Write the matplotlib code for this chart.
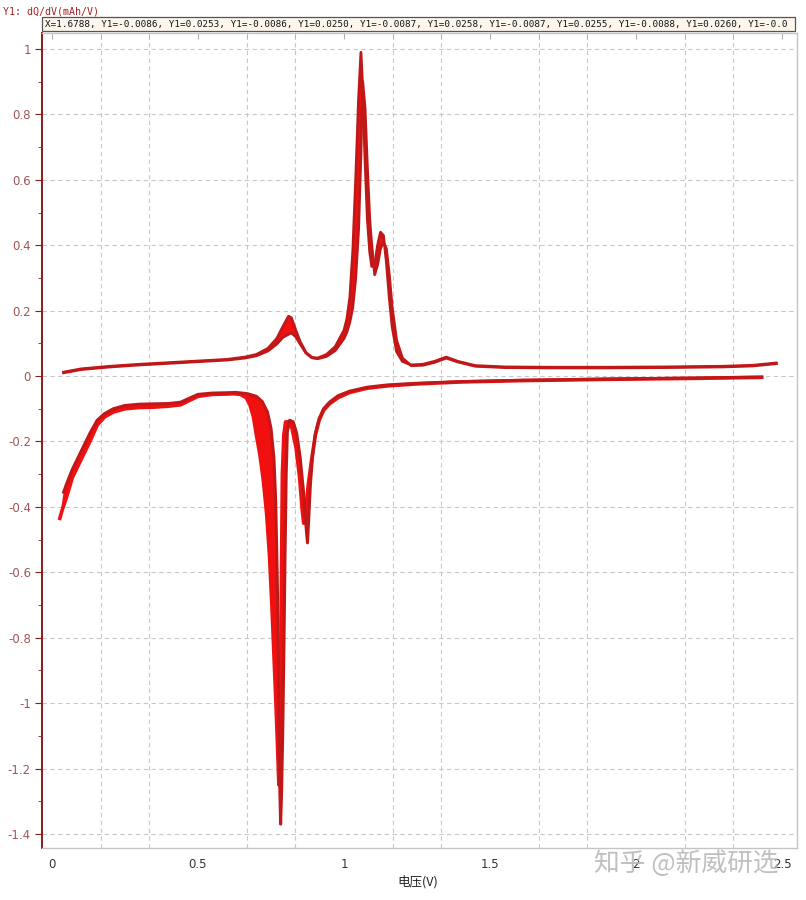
import matplotlib
matplotlib.use('Agg')
import matplotlib.pyplot as plt
from matplotlib.patches import Rectangle
from matplotlib.ticker import MultipleLocator, FixedLocator
import numpy as np

plt.rcParams['axes.unicode_minus'] = False

# charge branch (dQ/dV > 0), highest and lowest cycle
charge_v = [0.04, 0.10, 0.20, 0.30, 0.40, 0.50, 0.60, 0.66, 0.70, 0.74, 0.77, 0.79,
            0.81, 0.82, 0.835, 0.85, 0.87, 0.89, 0.91, 0.94, 0.97, 1.00, 1.01, 1.02,
            1.03, 1.04, 1.05, 1.058, 1.064, 1.072, 1.08, 1.088, 1.095, 1.105, 1.115,
            1.125, 1.135, 1.145, 1.155, 1.165, 1.18, 1.20, 1.23, 1.27, 1.31, 1.35,
            1.39, 1.45, 1.55, 1.7, 1.9, 2.1, 2.3, 2.4, 2.48]
charge_q_high = [0.012, 0.022, 0.030, 0.036, 0.041, 0.046, 0.051, 0.058, 0.066, 0.085,
                 0.115, 0.150, 0.183, 0.178, 0.140, 0.105, 0.072, 0.057, 0.055, 0.066,
                 0.090, 0.140, 0.175, 0.240, 0.380, 0.600, 0.850, 0.990, 0.880, 0.660,
                 0.480, 0.380, 0.335, 0.340, 0.400, 0.440, 0.430, 0.350, 0.240, 0.150,
                 0.075, 0.045, 0.034, 0.036, 0.045, 0.058, 0.045, 0.032, 0.028, 0.027,
                 0.027, 0.028, 0.030, 0.033, 0.040]
charge_q_low = [0.010, 0.020, 0.028, 0.034, 0.039, 0.044, 0.049, 0.055, 0.062, 0.077,
                0.098, 0.118, 0.128, 0.132, 0.120, 0.098, 0.070, 0.056, 0.053, 0.060,
                0.078, 0.115, 0.135, 0.165, 0.210, 0.300, 0.450, 0.680, 0.900, 0.820,
                0.640, 0.480, 0.400, 0.310, 0.340, 0.390, 0.410, 0.390, 0.310, 0.210,
                0.110, 0.055, 0.032, 0.033, 0.042, 0.055, 0.043, 0.030, 0.026, 0.025,
                0.025, 0.026, 0.028, 0.031, 0.038]

# discharge branch (dQ/dV < 0), two extreme cycles, high voltage -> low voltage
dis_v_a = [2.43, 2.2, 1.9, 1.6, 1.4, 1.25, 1.15, 1.08, 1.02, 0.98, 0.95, 0.93, 0.915,
           0.902, 0.89, 0.878, 0.868, 0.862, 0.856, 0.848, 0.836, 0.822, 0.810, 0.800,
           0.794, 0.789, 0.786, 0.783, 0.780, 0.777, 0.772, 0.766, 0.760, 0.753, 0.745,
           0.735, 0.724, 0.712, 0.700, 0.690, 0.678, 0.665, 0.645, 0.62, 0.60, 0.55,
           0.50, 0.47, 0.44, 0.40, 0.35, 0.30, 0.25, 0.21, 0.18, 0.155, 0.13, 0.10,
           0.07, 0.05, 0.035, 0.027]
dis_q_a = [-0.004, -0.007, -0.010, -0.014, -0.018, -0.024, -0.030, -0.037, -0.050,
           -0.066, -0.085, -0.105, -0.135, -0.180, -0.250, -0.330, -0.420, -0.450,
           -0.400, -0.310, -0.220, -0.160, -0.140, -0.140, -0.180, -0.300, -0.600,
           -0.950, -1.180, -1.250, -1.120, -0.980, -0.850, -0.700, -0.550, -0.420,
           -0.320, -0.240, -0.180, -0.125, -0.088, -0.066, -0.056, -0.054, -0.055,
           -0.056, -0.062, -0.075, -0.088, -0.092, -0.095, -0.096, -0.100, -0.110,
           -0.125, -0.150, -0.200, -0.255, -0.310, -0.370, -0.410, -0.435]
dis_v_b = [2.43, 2.2, 1.9, 1.6, 1.4, 1.25, 1.15, 1.08, 1.02, 0.98, 0.95, 0.93, 0.915,
           0.902, 0.892, 0.885, 0.879, 0.875, 0.870, 0.862, 0.850, 0.838, 0.826, 0.814,
           0.806, 0.802, 0.798, 0.794, 0.790, 0.786, 0.783, 0.780, 0.777, 0.774, 0.770,
           0.766, 0.760, 0.750, 0.738, 0.72, 0.70, 0.67, 0.63, 0.60, 0.55, 0.50, 0.47,
           0.44, 0.40, 0.35, 0.30, 0.25, 0.21, 0.18, 0.155, 0.13, 0.10, 0.07, 0.05,
           0.04]
dis_q_b = [-0.003, -0.006, -0.009, -0.013, -0.017, -0.022, -0.027, -0.034, -0.046,
           -0.060, -0.080, -0.100, -0.130, -0.175, -0.250, -0.330, -0.440, -0.510,
           -0.460, -0.360, -0.250, -0.175, -0.140, -0.135, -0.170, -0.300, -0.550,
           -0.850, -1.100, -1.280, -1.370, -1.250, -1.000, -0.750, -0.550, -0.380,
           -0.250, -0.160, -0.110, -0.078, -0.062, -0.054, -0.050, -0.051, -0.052,
           -0.056, -0.068, -0.080, -0.084, -0.085, -0.086, -0.090, -0.100, -0.115,
           -0.135, -0.175, -0.230, -0.285, -0.330, -0.355]

x_ticks = [0, 0.5, 1, 1.5, 2, 2.5]
x_tick_labels = ['0', '0.5', '1', '1.5', '2', '2.5']
y_ticks = [1, 0.8, 0.6, 0.4, 0.2, 0, -0.2, -0.4, -0.6, -0.8, -1, -1.2, -1.4]
y_tick_labels = ['1', '0.8', '0.6', '0.4', '0.2', '0', '-0.2', '-0.4', '-0.6',
                 '-0.8', '-1', '-1.2', '-1.4']

y_title = 'Y1: dQ/dV(mAh/V)'
header = ('X=1.6788, Y1=-0.0086, Y1=0.0253, Y1=-0.0086, Y1=0.0250, Y1=-0.0087, '
          'Y1=0.0258, Y1=-0.0087, Y1=0.0255, Y1=-0.0088, Y1=0.0260, Y1=-0.0')
x_label = '电压(V)'
watermark = '知乎 @新威研选'

W, H = 806, 900
fig = plt.figure(figsize=(W / 100, H / 100), dpi=100)
ax = fig.add_axes([42 / W, 1 - 848 / H, (797 - 42) / W, (848 - 33) / H])

fill_c = '#f01010'
edge_c = '#c01818'

# charge band
ax.fill_between(charge_v, charge_q_low, charge_q_high, color=fill_c, lw=0, zorder=3)
ax.plot(charge_v, charge_q_high, color=edge_c, lw=2.0, zorder=4)
ax.plot(charge_v, charge_q_low, color=edge_c, lw=2.0, zorder=4)

# discharge band
poly_v = np.concatenate([dis_v_a, dis_v_b[::-1]])
poly_q = np.concatenate([dis_q_a, dis_q_b[::-1]])
ax.fill(poly_v, poly_q, color=fill_c, lw=0, zorder=3)
ax.plot(dis_v_a, dis_q_a, color=fill_c, lw=2.6, zorder=4)
ax.plot(dis_v_b, dis_q_b, color=edge_c, lw=2.2, zorder=4)

ax.set_xlim(-0.034, 2.551)
ax.set_ylim(-1.443, 1.049)

# axes styling
ax.xaxis.set_major_locator(FixedLocator(x_ticks))
ax.set_xticklabels(x_tick_labels)
ax.xaxis.set_minor_locator(MultipleLocator(1 / 6))
ax.set_yticks(y_ticks)
ax.set_yticklabels(y_tick_labels)
ax.yaxis.set_minor_locator(MultipleLocator(0.1))

ax.grid(True, which='minor', axis='x', color='#c8c8c8', ls=(0, (4, 3)), lw=0.8)
ax.grid(True, which='major', axis='y', color='#c8c8c8', ls=(0, (4, 3)), lw=0.8)
ax.set_axisbelow(True)

ax.tick_params(axis='x', which='both', bottom=False, top=True, direction='in',
               length=4, color='#b0b0b0', labelsize=8.5, labelcolor='#333333', pad=7)
ax.tick_params(axis='y', which='major', direction='out', length=5, color='#8b1c1c',
               labelsize=8.5, labelcolor='#a05555', pad=3)
ax.tick_params(axis='y', which='minor', direction='out', length=3, color='#8b1c1c')

for s in ['right', 'bottom', 'top']:
    ax.spines[s].set_color('#c4c4c4')
    ax.spines[s].set_linewidth(1.0)
ax.spines['left'].set_color('#8b1c1c')
ax.spines['left'].set_linewidth(1.4)

# header texts
fig.text(3 / W, 1 - 11 / H, y_title, family='DejaVu Sans Mono', fontsize=7.2,
         color='#a52222', va='center', ha='left')
fig.patches.append(Rectangle((42 / W, 1 - 31 / H), (795 - 42) / W, 14 / H,
                             transform=fig.transFigure, facecolor='#fdf6ec',
                             edgecolor='#555555', lw=0.9, zorder=5))
fig.text(45 / W, 1 - 24 / H, header, family='DejaVu Sans Mono', fontsize=6.7,
         color='#111111', va='center', ha='left', zorder=6)

fig.text(418 / W, 1 - 882 / H, x_label, family=['Noto Sans CJK SC', 'DejaVu Sans'],
         fontsize=9, color='#222222', ha='center', va='center')
fig.text(686 / W, 1 - 864 / H, watermark, family=['Noto Sans CJK SC', 'DejaVu Sans'],
         fontsize=18.5, color='#b4b4b4', alpha=0.85, ha='center', va='center')

fig.savefig('out.png', dpi=100)
